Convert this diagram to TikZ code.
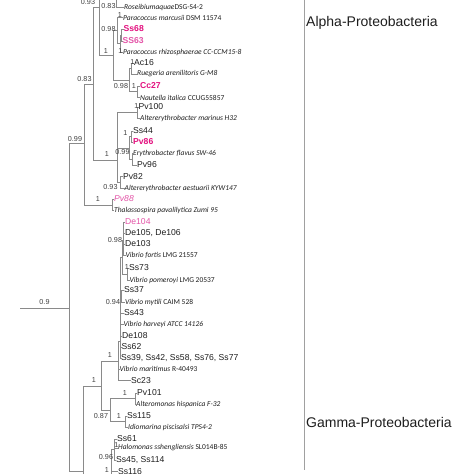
\documentclass[tikz,border=0pt]{standalone}
\usepackage{fontspec}
\setmainfont{Liberation Sans}
\newfontfamily\spfont{Carlito}
\definecolor{treegray}{HTML}{8A8A8A}
\definecolor{txt}{HTML}{1E1E1E}
\definecolor{mag}{HTML}{E3117F}
\definecolor{pinkl}{HTML}{E455A8}
\definecolor{divgray}{HTML}{A0A0A0}
\tikzset{
  tree/.style={draw=treegray, line width=0.75pt},
  iso/.style={anchor=west, inner sep=0pt, font=\fontsize{8.6}{10}\selectfont, text=txt},
  isom/.style={iso, text=mag, font=\fontsize{8.6}{10}\selectfont\bfseries},
  isop/.style={iso, text=pinkl},
  sp/.style={anchor=west, inner sep=0pt, font=\spfont\fontsize{7.5}{8}\selectfont, text=txt},
  bs/.style={inner sep=0pt, font=\fontsize{7.2}{8}\selectfont, text=txt!85},
  grp/.style={anchor=west, inner sep=0pt, font=\fontsize{14}{16}\selectfont, text=txt}
}
\begin{document}
\begin{tikzpicture}[x=1pt,y=-1pt]
\useasboundingbox[fill=white] (0,0) rectangle (474,474);
\clip (0,0) rectangle (474,474);
% divider and group titles
\draw[divgray, line width=0.9pt] (304,0) -- (304,470);
\node[grp] (alpha) at (306,23) {Alpha-Proteobacteria};
\node[grp] (gamma) at (306,422) {Gamma-Proteobacteria};
% internal nodes
\coordinate (r0) at (20,308);
\coordinate (R) at (69,308);
\coordinate (A) at (84,143);
\coordinate (GM) at (83,471);
\coordinate (B) at (93,84);
\coordinate (PN) at (112,205);
\coordinate (C) at (99,7);
\coordinate (D) at (116,-3);
\coordinate (P) at (113,55);
\coordinate (Pa) at (117,30);
\coordinate (Q) at (120,43.5);
\coordinate (SsN) at (121.5,35);
\coordinate (AcN) at (129,80);
\coordinate (AcS) at (131.5,68.5);
\coordinate (CcN) at (137,91.5);
\coordinate (E) at (117,160);
\coordinate (H) at (137.5,112.5);
\coordinate (J) at (129.5,148);
\coordinate (K1) at (131.5,136.5);
\coordinate (J2) at (132,159);
\coordinate (G) at (120,182.5);
\coordinate (K) at (101,386);
\coordinate (V) at (118,361);
\coordinate (W) at (120.5,341);
\coordinate (U) at (122,257);
\coordinate (Q98) at (123,240);
\coordinate (S73) at (127,274);
\coordinate (N94) at (121.5,296);
\coordinate (N87) at (110,410);
\coordinate (PvN) at (135,398.5);
\coordinate (SN115) at (125,421.5);
\coordinate (HB) at (111,480);
\coordinate (L) at (114.5,449);
% leaves: alpha
\node[sp] (rose) at (124,7) {\itshape Roseibiumaquae\upshape DSG-S4-2};
\node[sp] (marc) at (123,17.5) {\itshape Paracoccus marcusii\upshape\ DSM 11574};
\node[isom] (ss68) at (123.5,29) {Ss68};
\node[isop, font=\fontsize{8.6}{10}\selectfont\bfseries] (ss63) at (122.5,41) {SS63};
\node[sp] (rhiz) at (123,52) {\itshape Paracoccus rhizosphaerae CC-CCM15-8};
\node[iso] (ac16) at (134,63) {Ac16};
\node[sp] (rueg) at (137,74) {\itshape Ruegeria arenilitoris G-M8};
\node[isom] (cc27) at (140,86) {Cc27};
\node[sp] (naut) at (140,97.5) {\itshape Nautella italica\upshape\ CCUG55857};
\node[iso] (pv100) at (138.5,107) {Pv100};
\node[sp] (marin) at (140,118) {\itshape Altererythrobacter marinus H32};
\node[iso] (ss44) at (133,131) {Ss44};
\node[isom] (pv86) at (133,142) {Pv86};
\node[sp] (flav) at (133,153) {\itshape Erythrobacter flavus SW-46};
\node[iso] (pv96) at (137,165) {Pv96};
\node[iso] (pv82) at (123,176.5) {Pv82};
\node[sp] (aest) at (124.5,188) {\itshape Altererythrobacter aestuarii KYW147};
\node[isop] (pv88) at (114,199) {\itshape Pv88};
\node[sp] (thal) at (114,210.5) {\itshape Thalassospira pavalilytica Zumi 95};
% leaves: gamma
\node[isop] (de104) at (125,222) {De104};
\node[iso] (de105) at (125,233) {De105, De106};
\node[iso] (de103) at (125,244) {De103};
\node[sp] (fort) at (125.5,255) {\itshape Vibrio fortis\upshape\ LMG 21557};
\node[iso] (ss73) at (129,268) {Ss73};
\node[sp] (pome) at (129.5,280) {\itshape Vibrio pomeroyi\upshape\ LMG 20537};
\node[iso] (ss37) at (124,290) {Ss37};
\node[sp] (myti) at (125,302) {\itshape Vibrio mytili\upshape\ CAIM 528};
\node[iso] (ss43) at (124,313) {Ss43};
\node[sp] (harv) at (123.5,324) {\itshape Vibrio harveyi ATCC 14126};
\node[iso] (de108) at (122,336) {De108};
\node[iso] (ss62) at (121.5,347) {Ss62};
\node[iso] (ss39) at (121,358) {Ss39, Ss42, Ss58, Ss76, Ss77};
\node[sp] (mari) at (119.5,369) {\itshape Vibrio maritimus\upshape\ R-40493};
\node[iso] (sc23) at (131,380.5) {Sc23};
\node[iso] (pv101) at (137,393) {Pv101};
\node[sp] (alte) at (136,404) {\itshape Alteromonas hispanica F-32};
\node[iso] (ss115) at (127,416) {Ss115};
\node[sp] (idio) at (128,427) {\itshape Idiomarina piscisalsi TPS4-2};
\node[iso] (ss61) at (117,439) {Ss61};
\node[sp] (halo) at (118,448) {\itshape Halomonas sshengliensis\upshape\ SL014B-85};
\node[iso] (ss45) at (116,460) {Ss45, Ss114};
\node[iso] (ss116) at (118,471.5) {Ss116};
% branches
\draw[tree] (r0) -- (R);
\draw[tree] (R) |- (A);
\draw[tree] (R) |- (GM);
\draw[tree] (A) |- (B);
\draw[tree] (A) |- (PN);
\draw[tree] (PN) |- (pv88.west);
\draw[tree] (PN) |- (thal.west);
\draw[tree] (B) |- (C);
\draw[tree] (B) |- (E);
\draw[tree] (C) |- (D);
\draw[tree] (D) |- (rose.west);
\draw[tree] (C) |- (P);
\draw[tree] (P) |- (Pa);
\draw[tree] (P) |- (AcN);
\draw[tree] (Pa) |- (marc.west);
\draw[tree] (Pa) |- (Q);
\draw[tree] (Q) |- (SsN);
\draw[tree] (Q) |- (rhiz.west);
\draw[tree] (SsN) |- (ss68.west);
\draw[tree] (SsN) |- (ss63.west);
\draw[tree] (AcN) |- (AcS);
\draw[tree] (AcN) |- (CcN);
\draw[tree] (AcS) |- (ac16.west);
\draw[tree] (AcS) |- (rueg.west);
\draw[tree] (CcN) |- (cc27.west);
\draw[tree] (CcN) |- (naut.west);
\draw[tree] (E) |- (H);
\draw[tree] (E) |- (J);
\draw[tree] (E) |- (G);
\draw[tree] (H) |- (pv100.west);
\draw[tree] (H) |- (marin.west);
\draw[tree] (J) |- (K1);
\draw[tree] (J) |- (J2);
\draw[tree] (K1) |- (ss44.west);
\draw[tree] (K1) |- (pv86.west);
\draw[tree] (J2) |- (flav.west);
\draw[tree] (J2) |- (pv96.west);
\draw[tree] (G) |- (pv82.west);
\draw[tree] (G) |- (aest.west);
\draw[tree] (GM) |- (K);
\draw[tree] (GM) |- (HB);
\draw[tree] (K) |- (V);
\draw[tree] (K) |- (N87);
\draw[tree] (V) |- (W);
\draw[tree] (V) |- (mari.west);
\draw[tree] (V) |- (sc23.west);
\draw[tree] (W) |- (U);
\draw[tree] (W) |- (N94);
\draw[tree] (W) |- (ss43.west);
\draw[tree] (W) |- (harv.west);
\draw[tree] (W) |- (de108.west);
\draw[tree] (W) |- (ss62.west);
\draw[tree] (W) |- (ss39.west);
\draw[tree] (U) |- (Q98);
\draw[tree] (U) |- (S73);
\draw[tree] (Q98) |- (de104.west);
\draw[tree] (Q98) |- (de105.west);
\draw[tree] (Q98) |- (de103.west);
\draw[tree] (Q98) |- (fort.west);
\draw[tree] (S73) |- (ss73.west);
\draw[tree] (S73) |- (pome.west);
\draw[tree] (N94) |- (ss37.west);
\draw[tree] (N94) |- (myti.west);
\draw[tree] (N87) |- (PvN);
\draw[tree] (N87) |- (SN115);
\draw[tree] (PvN) |- (pv101.west);
\draw[tree] (PvN) |- (alte.west);
\draw[tree] (SN115) |- (ss115.west);
\draw[tree] (SN115) |- (idio.west);
\draw[tree] (HB) |- (L);
\draw[tree] (HB) |- (ss116.west);
\draw[tree] (L) |- (ss61.west);
\draw[tree] (L) |- (halo.west);
\draw[tree] (L) |- (ss45.west);
% support values
\node[bs] (b1) at (88,2.5) {0.93};
\node[bs] (b2) at (108.5,6) {0.83};
\node[bs] (b3) at (120,15) {1};
\node[bs] (b4) at (108.5,29) {0.98};
\node[bs] (b5) at (106,51.5) {1};
\node[bs] (b6) at (120.5,51) {1};
\node[bs] (b7) at (132.5,62) {1};
\node[bs] (b8) at (84.5,79) {0.83};
\node[bs] (b9) at (121,86) {0.98};
\node[bs] (b10) at (134,86) {1};
\node[bs] (b11) at (136.5,106.5) {1};
\node[bs] (b12) at (125.5,133) {1};
\node[bs] (b13) at (75,139) {0.99};
\node[bs] (b14) at (122.5,152) {0.99};
\node[bs] (b15) at (107,154.5) {1};
\node[bs] (b16) at (110.5,187) {0.93};
\node[bs] (b17) at (98,199) {1};
\node[bs] (b18) at (115,240) {0.98};
\node[bs] (b19) at (127,267.5) {1};
\node[bs] (b20) at (44.5,302) {0.9};
\node[bs] (b21) at (113,302) {0.94};
\node[bs] (b22) at (110,355) {1};
\node[bs] (b23) at (94,380) {1};
\node[bs] (b24) at (125,393) {1};
\node[bs] (b25) at (101,416) {0.87};
\node[bs] (b26) at (119,416) {1};
\node[bs] (b27) at (116.3,445.5) {1};
\node[bs] (b28) at (106,457) {0.96};
\node[bs] (b29) at (107,470) {1};
\end{tikzpicture}
\end{document}
